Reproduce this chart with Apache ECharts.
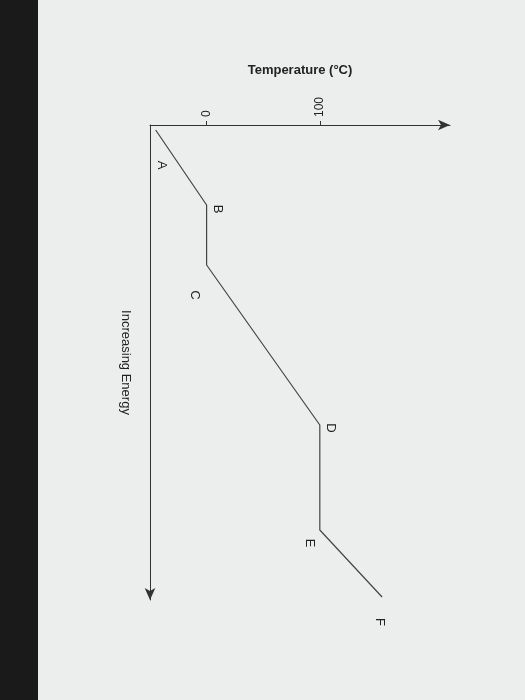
<!DOCTYPE html>
<html><head><meta charset="utf-8">
<script src="https://cdn.jsdelivr.net/npm/echarts@6/dist/echarts.min.js"></script>
<style>html,body{margin:0;padding:0;background:#e9eae8}#c{width:525px;height:700px}</style>
</head><body><div id="c"></div>
<script>
const pointNames = ['A','B','C','D','E','F'];
const temperatures = [-45, 0, 0, 100, 100, 155];
const energies = [5, 80, 140, 300, 405, 472];
const tempTicks = [0, 100];

const chart = echarts.init(document.getElementById('c'));
const labelOffsets = [[35,-6],[4,-11],[30,12],[3,-11],[13,10],[25,2]];
chart.setOption({
  backgroundColor: '#eceeed',
  graphic: [{type:'rect', shape:{x:0,y:0,width:38,height:700}, style:{fill:'#1a1a1a'}, z:-1}],
  grid: {left:150, top:125, width:300, height:475},
  xAxis: {
    type:'value', position:'top', min:-50, max:215,
    name:'Temperature (°C)', nameLocation:'middle', nameGap:48,
    nameTextStyle:{color:'#222', fontSize:13, fontWeight:'bold', fontFamily:'Liberation Sans'},
    axisLine:{show:true, onZero:false, lineStyle:{color:'#333', width:1}, symbol:['none','arrow'], symbolSize:[8,12]},
    axisTick:{show:true, length:4, customValues:tempTicks, lineStyle:{color:'#333'}},
    axisLabel:{customValues:tempTicks, rotate:-90, color:'#222', fontSize:12, margin:8, fontFamily:'Liberation Sans'},
    splitLine:{show:false}
  },
  yAxis: {
    type:'value', inverse:true, min:0, max:475,
    name:'Increasing Energy', nameLocation:'middle', nameGap:18, nameRotate:-90,
    nameTextStyle:{color:'#222', fontSize:13, fontFamily:'Liberation Sans'},
    axisLine:{show:true, onZero:false, lineStyle:{color:'#333', width:1}, symbol:['arrow','none'], symbolSize:[8,12]},
    axisTick:{show:false}, axisLabel:{show:false}, splitLine:{show:false}
  },
  series: [{
    type:'line', symbol:'circle', symbolSize:0, showSymbol:true, lineStyle:{color:'#444', width:1.2},
    itemStyle:{color:'#444'},
    data: temperatures.map((t,i)=>({value:[t, energies[i]],
      label:{show:true, formatter:pointNames[i], rotate:-90, position:'inside',
        offset:labelOffsets[i], color:'#222', fontSize:13, fontFamily:'Liberation Sans'}}))
  }]
});
</script></body></html>
